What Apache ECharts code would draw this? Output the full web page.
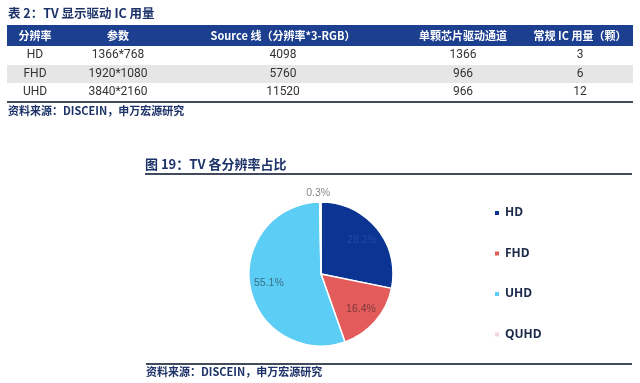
<!DOCTYPE html>
<html>
<head>
<meta charset="utf-8">
<script src="https://cdn.jsdelivr.net/npm/echarts@6/dist/echarts.min.js"></script>
<style>
  html, body { margin: 0; padding: 0; background: #fff; }
  #chart { width: 640px; height: 383px; }
</style>
</head>
<body>
<div id="chart"></div>
<script>
// 表格数据
var tableTitle = '表 2：TV 显示驱动 IC 用量';
var tableHeaders = ['分辨率', '参数', 'Source 线（分辨率*3-RGB）', '单颗芯片驱动通道', '常规 IC 用量（颗）'];
var resolutions = ['HD', 'FHD', 'UHD'];
var pixelParams = ['1366*768', '1920*1080', '3840*2160'];
var sourceLines = [4098, 5760, 11520];
var channelsPerChip = [1366, 966, 966];
var icCounts = [3, 6, 12];

// 饼图数据
var pieTitle = '图 19：TV 各分辨率占比';
var pieCategories = ['HD', 'FHD', 'UHD', 'QUHD'];
var pieShares = [28.2, 16.4, 55.1, 0.3];
var sourceNote = '资料来源：DISCEIN，申万宏源研究';

var COLORS = ['#0b3493', '#e35c5b', '#5ccdf4', '#f6d6dd'];
var NAVY = '#1c3268';
var CN_FONT = '"Noto Sans CJK SC", "Open Sans", sans-serif';
var LABEL_COLOR = 'rgba(25,25,35,0.55)';

var colX = [35, 118, 283, 463, 580];
var rowY = [55, 74, 92];

function buildTable() {
    var els = [];
    els.push({ type: 'text', left: 8, top: 7, style: { text: tableTitle, fill: NAVY, font: 'bold 12.5px ' + CN_FONT } });
    els.push({ type: 'rect', shape: { x: 7, y: 25, width: 626, height: 21 }, style: { fill: '#1c3f8f' } });
    els.push({ type: 'rect', shape: { x: 7, y: 65, width: 626, height: 18 }, style: { fill: '#e6e6e6' } });
    els.push({ type: 'rect', shape: { x: 7, y: 101, width: 626, height: 2 }, style: { fill: '#414b5c' } });
    tableHeaders.forEach(function(h, i) {
        els.push({ type: 'text', x: colX[i], y: 36, style: { text: h, fill: '#fff', font: 'bold 11px ' + CN_FONT, align: 'center', verticalAlign: 'middle' } });
    });
    var cols = [resolutions, pixelParams, sourceLines, channelsPerChip, icCounts];
    cols.forEach(function(col, i) {
        col.forEach(function(v, j) {
            els.push({ type: 'text', x: colX[i], y: rowY[j], style: { text: String(v), fill: '#333', font: '12px Roboto, sans-serif', align: 'center', verticalAlign: 'middle' } });
        });
    });
    els.push({ type: 'text', left: 8, top: 105, style: { text: sourceNote, fill: NAVY, font: 'bold 11px ' + CN_FONT } });

    // 图 19 标题与线条
    els.push({ type: 'text', left: 145, top: 158, style: { text: pieTitle, fill: NAVY, font: 'bold 13px ' + CN_FONT } });
    els.push({ type: 'rect', shape: { x: 145, y: 173, width: 487, height: 2 }, style: { fill: '#414b5c' } });
    els.push({ type: 'rect', shape: { x: 146, y: 363, width: 486, height: 2 }, style: { fill: '#414b5c' } });
    els.push({ type: 'text', left: 146, top: 366, style: { text: sourceNote, fill: NAVY, font: 'bold 11px ' + CN_FONT } });
    return els;
}

var pieData = pieCategories.map(function(name, i) {
    return { name: name, value: pieShares[i], itemStyle: { color: COLORS[i] } };
});

var chart = echarts.init(document.getElementById('chart'), null, { renderer: 'canvas' });
chart.setOption({
    animation: false,
    graphic: buildTable(),
    legend: {
        orient: 'vertical',
        left: 493,
        top: 207,
        padding: 0,
        itemGap: 28.5,
        itemWidth: 6,
        itemHeight: 6,
        icon: 'rect',
        data: pieCategories,
        textStyle: { color: '#1c2a4a', fontSize: 12, fontWeight: 'bold', fontFamily: '"Open Sans", sans-serif' }
    },
    series: [{
        type: 'pie',
        center: [321, 274],
        radius: 72,
        startAngle: 90,
        data: pieData,
        itemStyle: { borderColor: '#fff', borderWidth: 1.5 },
        label: {
            show: true,
            position: 'outside',
            formatter: function(p) { return p.dataIndex === 3 ? p.value + '%' : ''; },
            color: LABEL_COLOR,
            fontSize: 10.5,
            fontFamily: '"Liberation Sans", Arial, sans-serif'
        },
        labelLine: { show: false, length: 9, length2: 0 },
        labelLayout: function(p) {
            if (p.dataIndex === 3) return { align: 'center', dx: 3 };
        },
        emphasis: { disabled: true }
    }, {
        // 扇区内标签
        type: 'pie',
        center: [321, 274],
        radius: [28, 72],
        startAngle: 90,
        silent: true,
        data: pieCategories.map(function(name, i) {
            return {
                name: name,
                value: pieShares[i],
                itemStyle: { color: 'rgba(0,0,0,0)' },
                label: i === 0 ? { color: 'rgba(60,90,170,0.6)' } : {}
            };
        }),
        label: {
            show: true,
            position: 'inside',
            formatter: function(p) { return p.dataIndex === 3 ? '' : p.value + '%'; },
            color: LABEL_COLOR,
            fontSize: 10.5,
            fontFamily: '"Liberation Sans", Arial, sans-serif'
        },
        labelLine: { show: false },
        emphasis: { disabled: true }
    }]
});
</script>
</body>
</html>
